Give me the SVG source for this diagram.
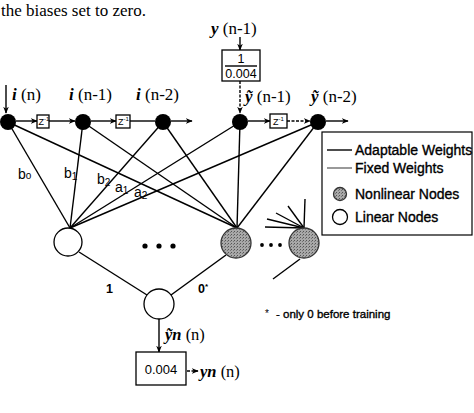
<svg xmlns="http://www.w3.org/2000/svg" width="474" height="413" viewBox="0 0 474 413">
<defs>
<marker id="ah" viewBox="0 0 10 10" refX="9" refY="5" markerWidth="7" markerHeight="7" orient="auto" markerUnits="userSpaceOnUse">
<path d="M0,1 L10,5 L0,9 L3,5 Z" fill="#000"/>
</marker>
<pattern id="stip" width="3" height="3" patternUnits="userSpaceOnUse">
<rect width="3" height="3" fill="#a8a8a8"/>
<rect x="0" y="0" width="1" height="1" fill="#555"/>
<rect x="2" y="1" width="1" height="1" fill="#777"/>
</pattern>
<style>
.ser{font-family:"Liberation Serif","Times New Roman",serif;fill:#000}
.sans{font-family:"Liberation Sans",Arial,sans-serif;fill:#000}
.bi{font-weight:bold;font-style:italic}
.thick{stroke:#000;stroke-width:0.35}
.ln{stroke:#000;stroke-width:1.4;fill:none}
.arr{stroke:#000;stroke-width:1.4;fill:none;marker-end:url(#ah)}
.dash{stroke:#000;stroke-width:1.4;fill:none;stroke-dasharray:3 1.5;marker-end:url(#ah)}
.inp{fill:#000}
.lin{fill:#fff;stroke:#000;stroke-width:1.3}
.non{fill:url(#stip);stroke:#333;stroke-width:1.3}
.box{fill:#fff;stroke:#000;stroke-width:1.3}
</style>
</defs>
<rect width="474" height="413" fill="#fff"/>
<text class="ser" x="1" y="16" font-size="17">the biases set to zero.</text>

<g id="connectors">
<line class="ln" x1="8" y1="122" x2="70" y2="228"/>
<line class="ln" x1="83" y1="122" x2="70" y2="228"/>
<line class="ln" x1="163" y1="122" x2="70" y2="228"/>
<line class="ln" x1="240" y1="122" x2="70" y2="228"/>
<line class="ln" x1="318" y1="122" x2="70" y2="228"/>
<line class="ln" x1="8" y1="122" x2="237" y2="228"/>
<line class="ln" x1="83" y1="122" x2="237" y2="228"/>
<line class="ln" x1="163" y1="122" x2="237" y2="228"/>
<line class="ln" x1="240" y1="122" x2="237" y2="228"/>
<line class="ln" x1="318" y1="122" x2="237" y2="228"/>
<line class="ln" x1="305" y1="199" x2="304" y2="228"/>
<line class="ln" x1="288" y1="206" x2="304" y2="228"/>
<line class="ln" x1="276" y1="213" x2="304" y2="228"/>
<line class="ln" x1="267" y1="219" x2="304" y2="228"/>
<line class="ln" x1="265" y1="227" x2="304" y2="228"/>
<line class="ln" x1="300" y1="259" x2="273" y2="279"/>
<line class="ln" x1="79" y1="252" x2="147" y2="295"/>
<line class="ln" x1="226" y1="255" x2="171" y2="295"/>
<line class="arr" x1="6" y1="85" x2="6" y2="113"/>
<line class="arr" x1="16" y1="121" x2="37" y2="121"/>
<line class="arr" x1="49" y1="121" x2="75" y2="121"/>
<line class="arr" x1="91" y1="121" x2="116" y2="121"/>
<line class="ln" x1="130" y1="121" x2="155" y2="121"/>
<line class="arr" x1="171" y1="121" x2="192" y2="121"/>
<line class="arr" x1="240" y1="37" x2="240" y2="50"/>
<line class="dash" x1="240" y1="81" x2="240" y2="113"/>
<line class="arr" x1="248" y1="121" x2="270" y2="121"/>
<line class="dash" x1="287" y1="121" x2="310" y2="121"/>
<line class="arr" x1="326" y1="121" x2="348" y2="121"/>
<line class="arr" x1="159" y1="319" x2="159" y2="352"/>
<line class="dash" x1="187" y1="371" x2="198" y2="371"/>
</g>

<g id="input-nodes">
<circle class="inp" cx="8" cy="122" r="8"/>
<circle class="inp" cx="83" cy="122" r="8"/>
<circle class="inp" cx="163" cy="122" r="8"/>
<circle class="inp" cx="240" cy="122" r="8"/>
<circle class="inp" cx="318" cy="122" r="8"/>
<text class="ser" x="12" y="100" font-size="17"><tspan class="bi">i</tspan> (n)</text>
<text class="ser" x="69" y="100" font-size="17"><tspan class="bi">i</tspan> (n-1)</text>
<text class="ser" x="136" y="100" font-size="17"><tspan class="bi">i</tspan> (n-2)</text>
<text class="ser" x="245" y="102" font-size="17"><tspan class="bi">ỹ</tspan> (n-1)</text>
<text class="ser" x="311" y="102" font-size="17"><tspan class="bi">ỹ</tspan> (n-2)</text>
</g>

<g id="delay1">
<rect class="box" x="37" y="115" width="12" height="13"/>
<text class="sans" x="38.5" y="125" font-size="9">Z<tspan font-size="6" dy="-4">-1</tspan></text>
</g>
<g id="delay2">
<rect class="box" x="116" y="115" width="14" height="13"/>
<text class="sans" x="118" y="125" font-size="9">Z<tspan font-size="6" dy="-4">-1</tspan></text>
</g>
<g id="delay3">
<rect class="box" x="270" y="114" width="17" height="14"/>
<text class="sans" x="273" y="125" font-size="9">Z<tspan font-size="6" dy="-4">-1</tspan></text>
</g>

<g id="scale-in">
<text class="ser" x="211" y="34" font-size="17"><tspan class="bi">y</tspan> (n-1)</text>
<rect class="box" x="222" y="50" width="38" height="31"/>
<text class="sans" x="241" y="63" font-size="12.5" text-anchor="middle">1</text>
<line class="ln" x1="225" y1="66" x2="257" y2="66"/>
<text class="sans" x="241" y="78" font-size="12.5" text-anchor="middle">0.004</text>
</g>

<g id="weight-labels" class="sans" font-size="14">
<text x="18" y="179">b<tspan font-size="10">o</tspan></text>
<text x="64" y="178">b<tspan font-size="10" dy="2">1</tspan></text>
<text x="97" y="184">b<tspan font-size="10" dy="2">2</tspan></text>
<text x="115" y="192">a<tspan font-size="10" dy="2">1</tspan></text>
<text x="134" y="197">a<tspan font-size="10" dy="2">2</tspan></text>
</g>

<g id="hidden-linear">
<circle class="lin" cx="68" cy="242" r="14"/>
</g>
<g id="dots1">
<circle cx="145" cy="246" r="2.6"/>
<circle cx="159" cy="246" r="2.6"/>
<circle cx="173" cy="246" r="2.6"/>
</g>
<g id="hidden-nonlinear-1">
<circle class="non" cx="236" cy="243" r="15"/>
</g>
<g id="dots2">
<circle cx="262" cy="245" r="1.9"/>
<circle cx="271" cy="245" r="1.9"/>
<circle cx="280" cy="245" r="1.9"/>
</g>
<g id="hidden-nonlinear-2">
<circle class="non" cx="304" cy="243" r="15"/>
</g>

<g id="output-node">
<circle class="lin" cx="159" cy="304" r="15"/>
<text class="sans" x="106" y="293" font-size="12.5" font-weight="bold">1</text>
<text class="sans" x="198" y="293" font-size="12.5" font-weight="bold">0<tspan font-size="8" dy="-4">*</tspan></text>
<text class="ser" x="165" y="340" font-size="16.5"><tspan class="bi">ỹn</tspan> (n)</text>
</g>

<g id="scale-out">
<rect class="box" x="136" y="352" width="50" height="33"/>
<text class="sans" x="161" y="374" font-size="13" text-anchor="middle">0.004</text>
<text class="ser" x="200" y="377" font-size="16.5"><tspan class="bi">yn</tspan> (n)</text>
</g>

<g id="note">
<text class="sans" x="265" y="317" font-size="10">*</text>
<text class="sans thick" x="276" y="318" font-size="11.5" stroke-width="0.25">- only 0 before training</text>
</g>

<g id="legend">
<rect x="322" y="132" width="150" height="103" fill="#fff" stroke="#000" stroke-width="1.2"/>
<line class="ln" x1="327" y1="150" x2="352" y2="150"/>
<text class="sans thick" x="355" y="155" font-size="14">Adaptable Weights</text>
<line x1="327" y1="168" x2="352" y2="168" stroke="#555" stroke-width="1.2"/>
<text class="sans thick" x="355" y="173" font-size="14">Fixed Weights</text>
<circle class="non" cx="340" cy="194" r="6.5"/>
<text class="sans thick" x="355" y="199" font-size="14">Nonlinear Nodes</text>
<circle class="lin" cx="340" cy="217" r="7.5"/>
<text class="sans thick" x="355" y="222" font-size="14">Linear Nodes</text>
</g>
</svg>
